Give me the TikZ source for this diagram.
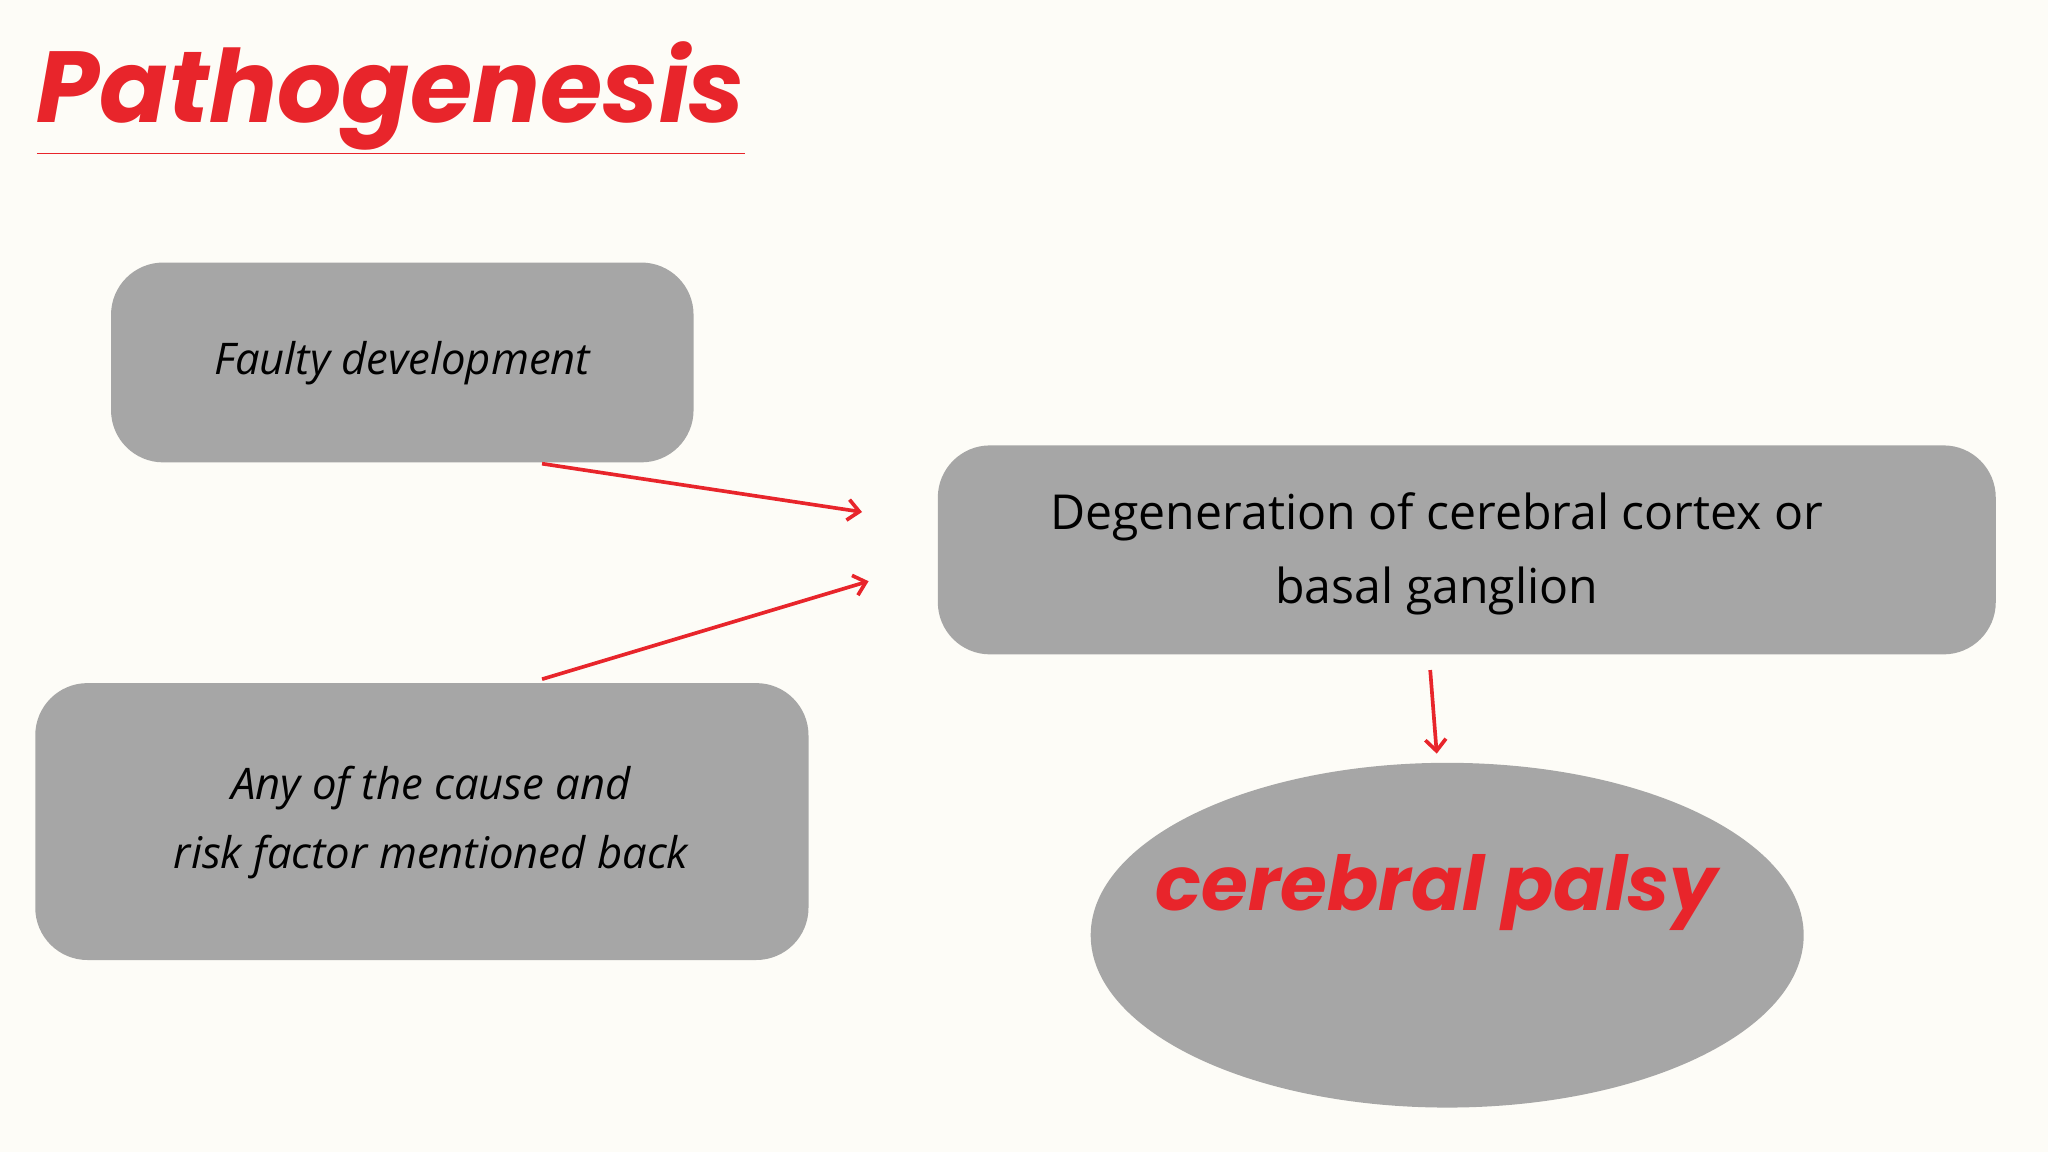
\documentclass[tikz,border=0pt]{standalone}
\usepackage{fontspec}
\setmainfont{Open Sans}
\newfontfamily\pop{Poppins}
\usetikzlibrary{shapes.geometric,arrows.meta}
\definecolor{bg}{HTML}{FDFCF7}
\definecolor{rd}{HTML}{E8252B}
\definecolor{gr}{HTML}{A6A6A6}
\begin{document}
\begin{tikzpicture}[x=0.02cm,y=-0.02cm,
 box/.style={fill=gr,rounded corners=0.8cm,inner sep=0},
 arr/.style={draw=rd,line width=1.6pt,-{Straight Barb[length=5pt,width=9pt]}},
 txt/.style={font=\fontsize{19}{30}\selectfont\itshape,align=center}]
\fill[bg] (0,0) rectangle (1568,882);
\useasboundingbox (0,0) rectangle (1568,882);
\node[anchor=west,text=rd,font=\pop\fontsize{44}{50}\selectfont\bfseries\itshape] (title) at (22,75) {\underline{Pathogenesis}};
\fill[box] (85,201) rectangle (531,354);
\node[txt] (a) at (308,278) {Faulty development};
\fill[box] (27,523) rectangle (619,735);
\node[txt] (b) at (330,630) {Any of the cause and\\risk factor mentioned back};
\fill[box] (718,341) rectangle (1528,501);
\node[font=\fontsize{21}{32}\selectfont,align=center] (c) at (1100,424) {Degeneration of cerebral cortex or\\basal ganglion};
\node[ellipse,fill=gr,minimum width=10.92cm,minimum height=5.28cm,inner sep=0] (e) at (1108,716) {};
\node[text=rd,font=\pop\fontsize{33}{40}\selectfont\bfseries\itshape] (cp) at (1100,683) {cerebral palsy};
\coordinate (a1) at (415,355); \coordinate (a2) at (660,392);
\coordinate (b1) at (415,520); \coordinate (b2) at (665,445);
\coordinate (c1) at (1095,513); \coordinate (c2) at (1100,577);
\draw[arr] (a1) -- (a2);
\draw[arr] (b1) -- (b2);
\draw[arr] (c1) -- (c2);
\end{tikzpicture}
\end{document}
